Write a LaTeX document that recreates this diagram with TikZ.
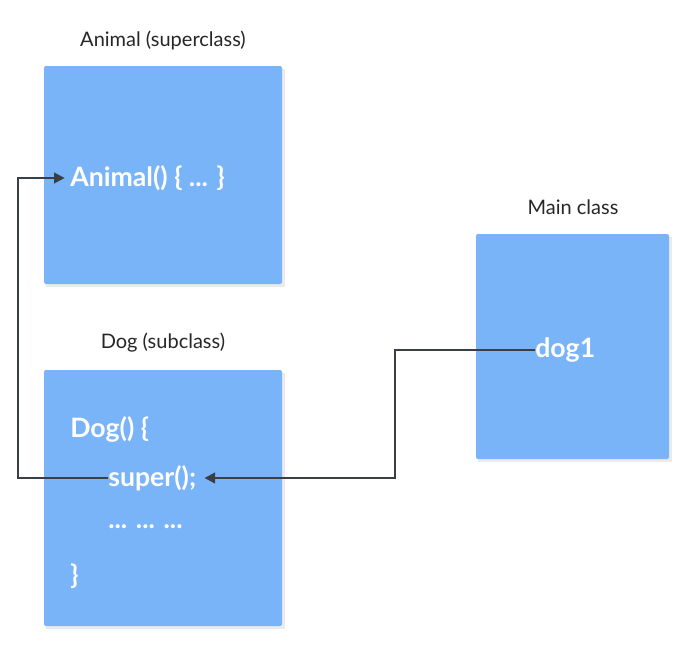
\documentclass[tikz,border=0pt]{standalone}
\usepackage{fontspec}
\setmainfont{Lato}
\usetikzlibrary{arrows.meta}
\definecolor{boxc}{HTML}{7AB4F8}
\definecolor{linec}{HTML}{3A3F45}
\begin{document}
\begin{tikzpicture}[x=0.75pt,y=-0.75pt,
  box/.style={fill=boxc,draw=none,rounded corners=1.5pt},
  title/.style={font=\fontsize{15}{18}\selectfont,text=black!85},
  code/.style={font=\fontsize{20}{24}\selectfont\bfseries,text=white,anchor=west,inner sep=0},
  conn/.style={draw=linec,line width=1.6pt,-{Triangle[length=8pt,width=8pt]}}]
\useasboundingbox (0,0) rectangle (696,662);
\fill[black!8] (46,69) rectangle (285,287);
\fill[black!8] (46,373) rectangle (285,629);
\fill[black!8] (478,237) rectangle (672,462);
\path[box] (44,66) rectangle (282,284);
\path[box] (44,370) rectangle (282,626);
\path[box] (476,234) rectangle (669,459);
\node[title] (t1) at (163,40) {Animal (superclass)};
\node[title] (t2) at (163,343) {Dog (subclass)};
\node[title] (t3) at (573,207) {Main class};
\node[code] (animal) at (70,178) {Animal() \{ ... \}};
\node[code] (dog) at (70,429) {Dog() \{};
\node[code] (super) at (108,478) {super();};
\node[code] (dots) at (108,527) {... ... ...};
\node[code] (close) at (70,576) {\}};
\node[code] (dog1) at (535,350) {dog1};
\coordinate (a1) at (395,350);
\coordinate (a2) at (395,478);
\coordinate (b1) at (18,478);
\coordinate (b2) at (18,178);
\draw[conn] (dog1.west) -- (a1) -- (a2) -- ([xshift=6pt]super.east |- a2);
\draw[conn] (super.west) -- (b1) -- (b2) -- ([xshift=-4pt]animal.west);
\end{tikzpicture}
\end{document}
